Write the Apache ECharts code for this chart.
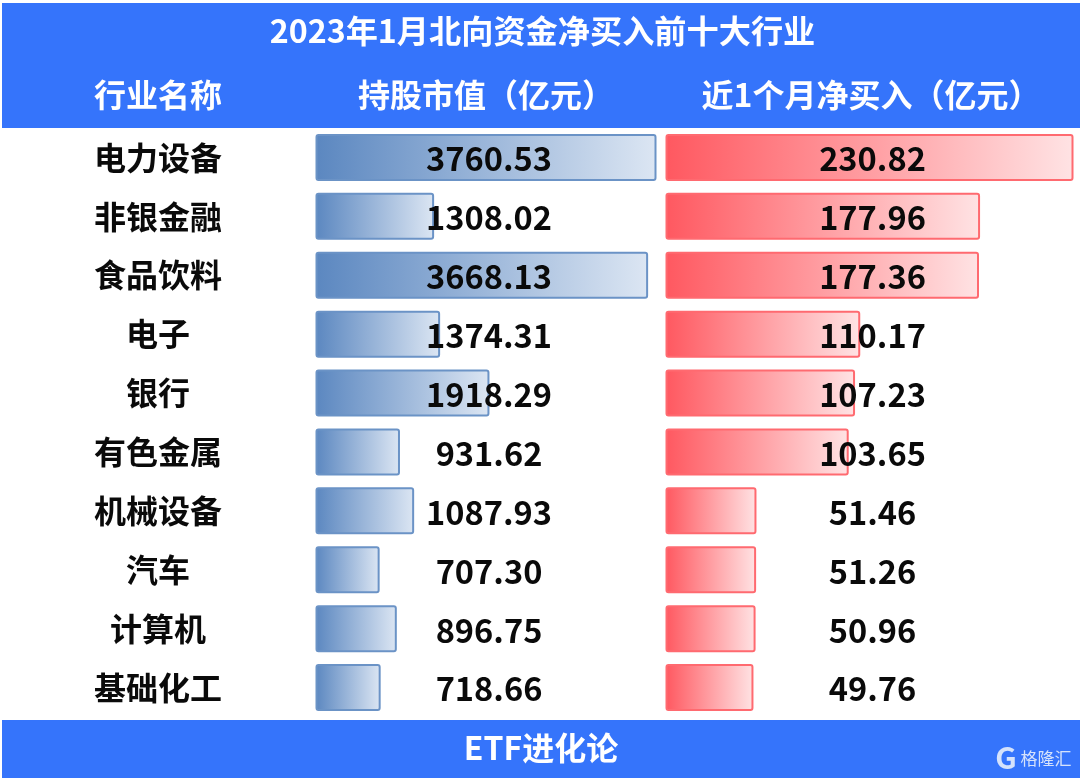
<!DOCTYPE html>
<html>
<head>
<meta charset="utf-8">
<style>html,body{margin:0;padding:0;background:#fff}#main{width:1080px;height:778px}</style>
<script src="https://cdn.jsdelivr.net/npm/echarts@6/dist/echarts.min.js"></script>
</head>
<body>
<div id="main"></div>
<script>
const industries = ['电力设备', '非银金融', '食品饮料', '电子', '银行', '有色金属', '机械设备', '汽车', '计算机', '基础化工'];
const holdings = ['3760.53', '1308.02', '3668.13', '1374.31', '1918.29', '931.62', '1087.93', '707.30', '896.75', '718.66'];
const netBuy = ['230.82', '177.96', '177.36', '110.17', '107.23', '103.65', '51.46', '51.26', '50.96', '49.76'];
const titleText = '2023年1月北向资金净买入前十大行业';
const headers = ['行业名称', '持股市值（亿元）', '近1个月净买入（亿元）'];
const footerText = 'ETF进化论';

const FONT = '"Noto Sans CJK SC", "Noto Sans", sans-serif';
const BLUE = '#3574fb';

const chart = echarts.init(document.getElementById('main'), null, { renderer: 'canvas' });

function gradient(from, to) {
    return new echarts.graphic.LinearGradient(0, 0, 1, 0, [
        { offset: 0, color: from },
        { offset: 1, color: to }
    ]);
}

function barSeries(idx, values, from, to, border) {
    return {
        type: 'bar',
        xAxisIndex: idx,
        yAxisIndex: idx,
        data: values.map(Number),
        barWidth: 47,
        silent: true,
        itemStyle: {
            color: gradient(from, to),
            borderColor: border,
            borderWidth: 2,
            borderRadius: 2
        }
    };
}

// transparent full width bars, only there to centre the value text in its column
function labelSeries(idx, values, max, dx) {
    return {
        type: 'bar',
        xAxisIndex: idx,
        yAxisIndex: idx,
        data: values.map(() => max),
        barWidth: 47,
        barGap: '-100%',
        silent: true,
        z: 5,
        itemStyle: { color: 'transparent' },
        label: {
            show: true,
            position: 'inside',
            offset: [dx, 1.5],
            formatter: p => values[p.dataIndex],
            color: '#0a0a0a',
            fontFamily: FONT,
            fontWeight: 'bold',
            fontSize: 32.6
        }
    };
}

function headerText(x, y, text, size) {
    return {
        type: 'text',
        x: x,
        y: y,
        z: 2,
        style: {
            text: text,
            fill: '#fff',
            font: 'bold ' + size + 'px ' + FONT,
            textAlign: 'center',
            textVerticalAlign: 'middle'
        }
    };
}

const maxLeft = Math.max(...holdings.map(Number));
const maxRight = Math.max(...netBuy.map(Number));

chart.setOption({
    animation: false,
    backgroundColor: '#fff',
    grid: [
        { left: 315.5, width: 341, top: 128, height: 589 },
        { left: 665.5, width: 408, top: 128, height: 589 }
    ],
    xAxis: [
        { gridIndex: 0, type: 'value', min: 0, max: maxLeft, show: false },
        { gridIndex: 1, type: 'value', min: 0, max: maxRight, show: false }
    ],
    yAxis: [
        {
            gridIndex: 0,
            type: 'category',
            inverse: true,
            data: industries,
            axisLine: { show: false },
            axisTick: { show: false },
            splitLine: { show: false },
            axisLabel: {
                margin: 157.5,
                align: 'center',
                padding: [4, 0, 0, 0],
                color: '#0a0a0a',
                fontFamily: FONT,
                fontWeight: 'bold',
                fontSize: 32
            }
        },
        {
            gridIndex: 1,
            type: 'category',
            inverse: true,
            data: industries,
            axisLine: { show: false },
            axisTick: { show: false },
            axisLabel: { show: false }
        }
    ],
    series: [
        barSeries(0, holdings, '#5b87c0', '#dce6f3', '#6b93c6'),
        labelSeries(0, holdings, maxLeft, 3),
        barSeries(1, netBuy, '#ff5860', '#ffe3e4', '#ff6a70'),
        labelSeries(1, netBuy, maxRight, 3)
    ],
    graphic: [
        { type: 'rect', shape: { x: 2, y: 3, width: 1078, height: 125 }, style: { fill: BLUE }, z: 1 },
        { type: 'rect', shape: { x: 2, y: 720, width: 1078, height: 58 }, style: { fill: BLUE }, z: 1 },
        headerText(542.5, 31, titleText, 32.2),
        headerText(158, 95, headers[0], 32),
        headerText(486, 95, headers[1], 32),
        headerText(871, 95, headers[2], 32),
        headerText(541, 748, footerText, 32),
        {
            type: 'text', x: 1006, y: 758, z: 2,
            style: { text: 'G', fill: '#d5e2fb', font: 'bold 30px ' + FONT, textAlign: 'center', textVerticalAlign: 'middle' }
        },
        {
            type: 'text', x: 1046, y: 759, z: 2,
            style: { text: '格隆汇', fill: '#d5e2fb', font: '17px ' + FONT, textAlign: 'center', textVerticalAlign: 'middle' }
        }
    ]
});
</script>
</body>
</html>
